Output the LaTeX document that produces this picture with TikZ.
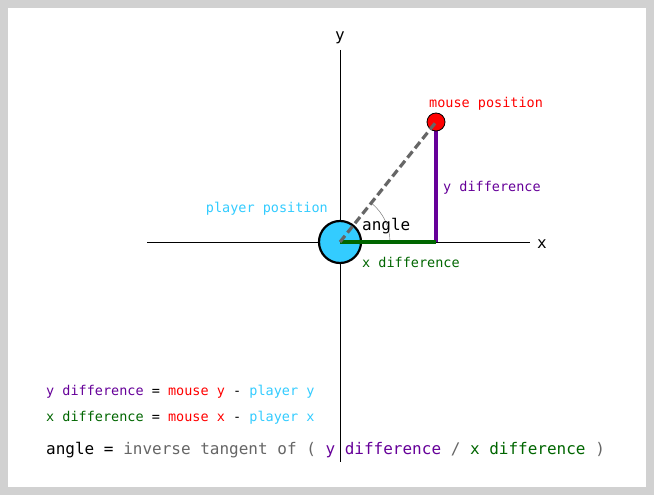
\documentclass[tikz,border=0pt]{standalone}
\usepackage{fontspec}
\setmainfont{DejaVu Sans Mono}
\definecolor{cy}{HTML}{33CCFF}
\definecolor{pu}{HTML}{660099}
\definecolor{gr}{HTML}{006600}
\definecolor{rd}{HTML}{FF0000}
\definecolor{gy}{HTML}{666666}
\begin{document}
\begin{tikzpicture}[x=1pt,y=-1pt,
  lbl/.style={font=\fontsize{13.5}{15}\selectfont,inner sep=0pt},
  big/.style={font=\fontsize{16}{18}\selectfont,inner sep=0pt},
  huge/.style={font=\fontsize{16}{18}\selectfont,inner sep=0pt}]
\fill[black!18] (0,0) rectangle (654,495);
\fill[white] (8,8) rectangle (646,487);
\useasboundingbox (0,0) rectangle (654,495);
\coordinate (o) at (340,242);
\coordinate (xl) at (147,242); \coordinate (xr) at (530,242);
\coordinate (yt) at (340,50); \coordinate (yb) at (340,462);
\coordinate (c) at (436,242);
\draw[line width=0.8pt] (xl) -- (xr);
\draw[line width=0.8pt] (yt) -- (yb);
\node[huge] (ylab) at (340,38) {y};
\node[huge] (xlab) at (542,244) {x};
\draw[gy] (390,242) arc[start angle=0,end angle=-51,radius=50];
\draw[pu,line width=3.2pt] (c) -- (436,122);
\node[circle,draw,line width=2.2pt,fill=cy,minimum size=42pt,inner sep=0pt] (player) at (o) {};
\node[circle,draw,line width=0.8pt,fill=rd,minimum size=18pt,inner sep=0pt] (mouse) at (436,122) {};
\draw[gr,line width=3.2pt] (o) -- (c);
\draw[gy,line width=3.2pt,dash pattern=on 8pt off 4pt] (o) -- (mouse.center);
\node[lbl,text=rd,anchor=west] (ml) at (429,104) {mouse position};
\node[lbl,text=cy,anchor=east] (pl) at (328,209) {player position};
\node[lbl,text=pu,anchor=west] (yd) at (443,188) {y difference};
\node[lbl,text=gr,anchor=west] (xd) at (362,262) {x difference};
\node[huge,anchor=west] (al) at (362,226) {angle};
\node[lbl,anchor=west] (e1) at (46,392) {\textcolor{pu}{y difference} = \textcolor{rd}{mouse y} - \textcolor{cy}{player y}};
\node[lbl,anchor=west] (e2) at (46,418) {\textcolor{gr}{x difference} = \textcolor{rd}{mouse x} - \textcolor{cy}{player x}};
\node[big,anchor=west] (e3) at (46,450) {angle = \textcolor{gy}{inverse tangent of (} \textcolor{pu}{y difference} \textcolor{gy}{/} \textcolor{gr}{x difference} \textcolor{gy}{)}};
\end{tikzpicture}
\end{document}
